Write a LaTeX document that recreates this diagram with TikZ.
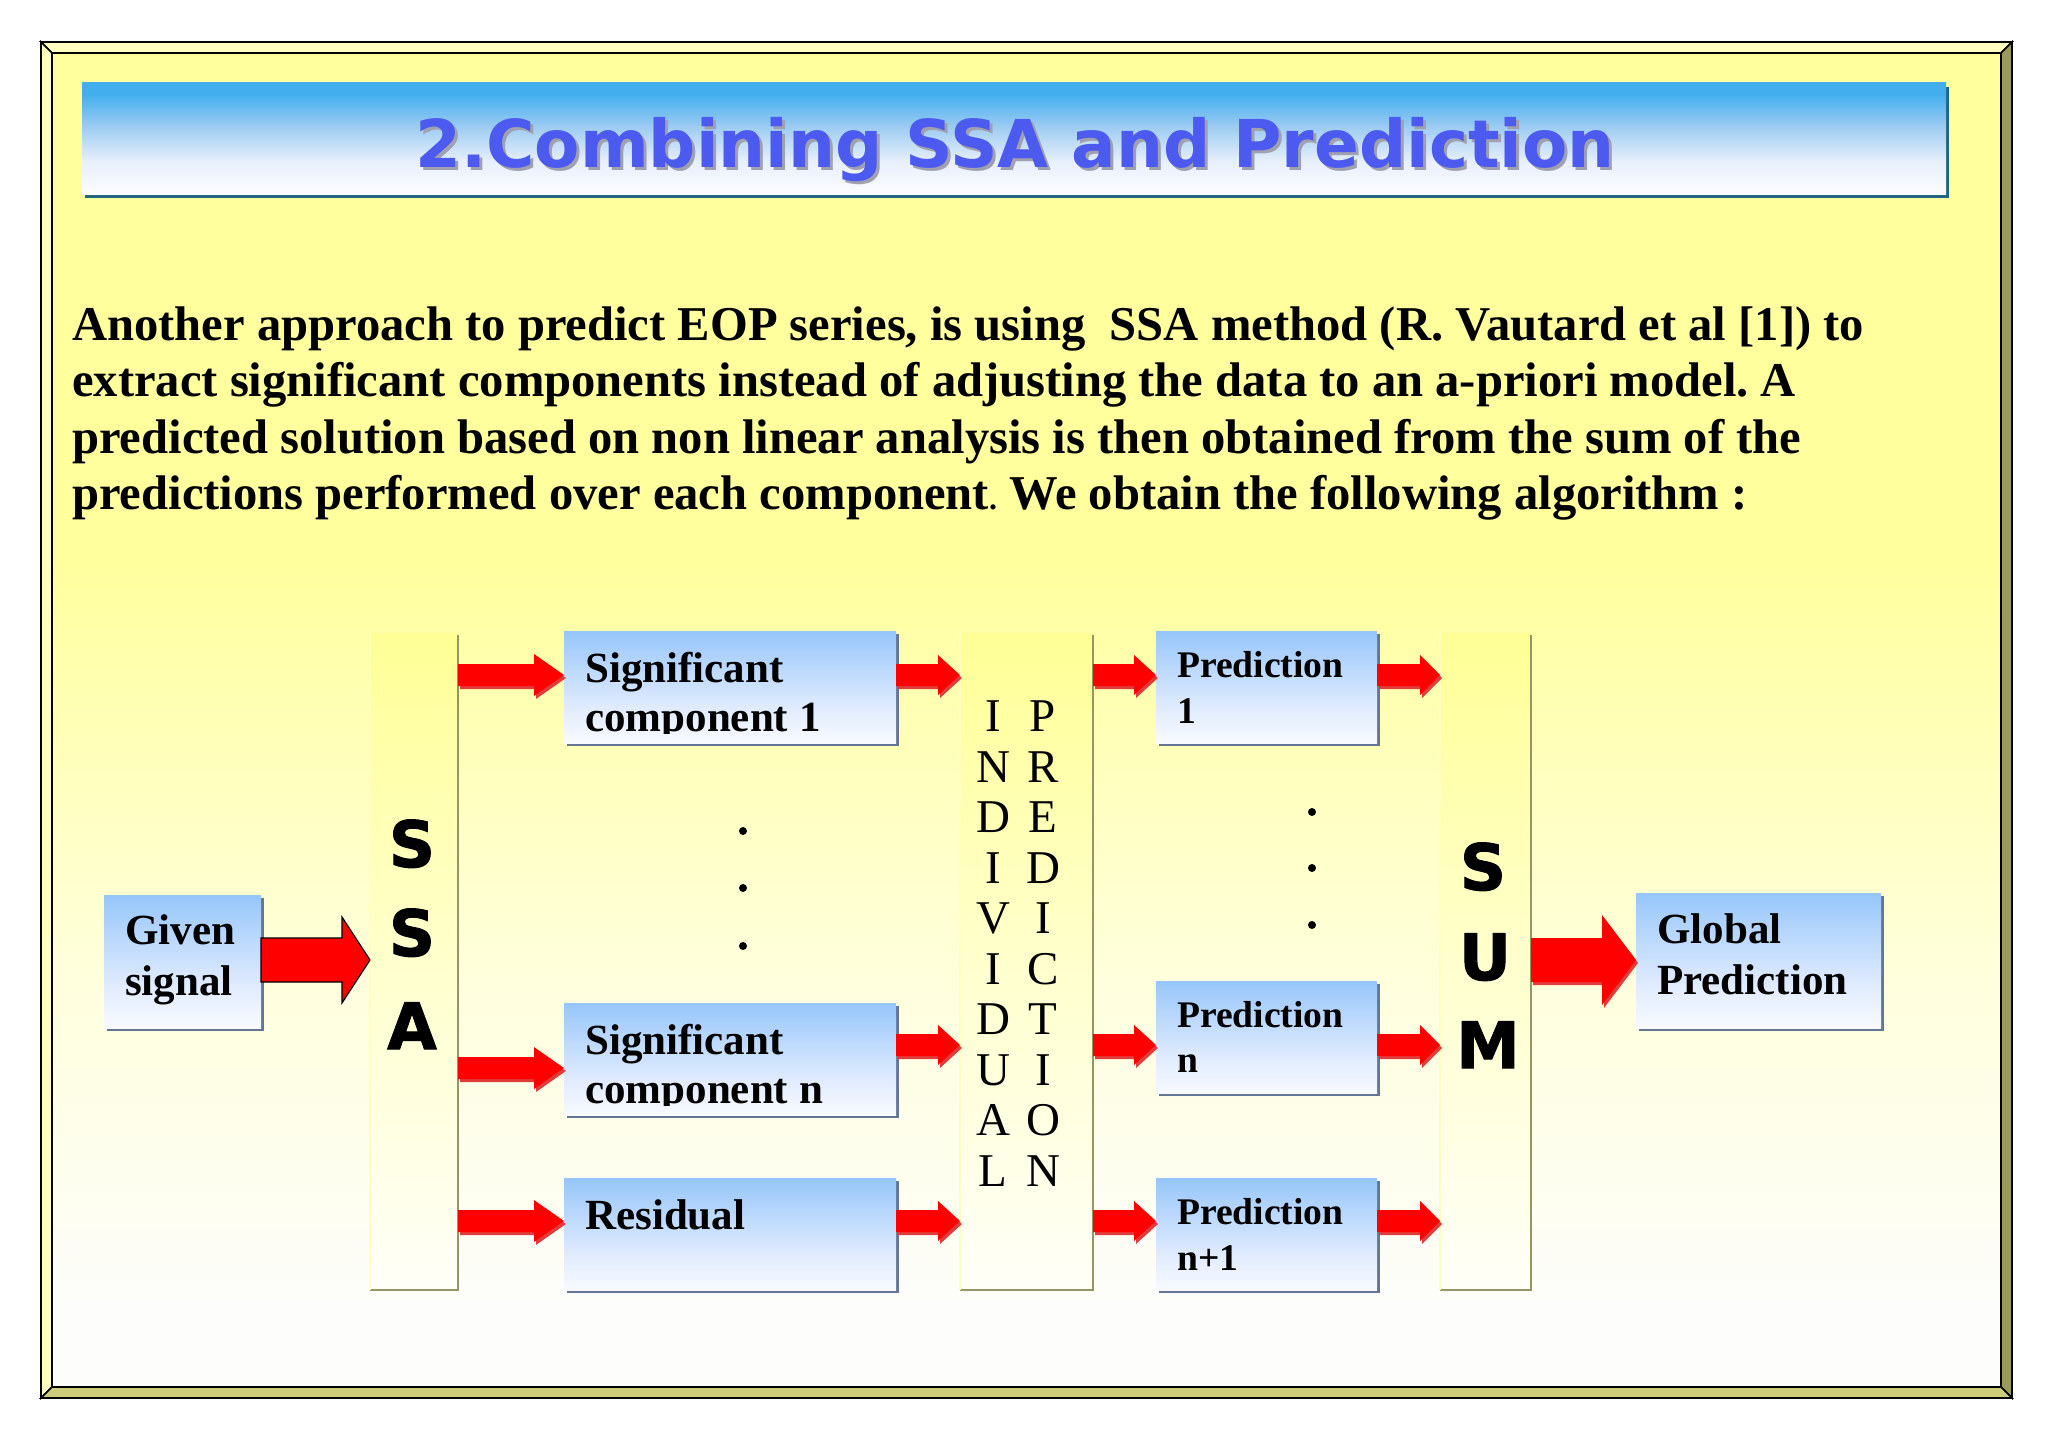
\documentclass[tikz,border=0pt]{standalone}
\usepackage{fontspec}
\setmainfont{Liberation Serif}
\newfontfamily\dejavu{DejaVu Sans}
\newfontfamily\heavyfont[BoldFeatures={FakeBold=1.6}]{DejaVu Sans}
\usetikzlibrary{calc,shadows}
\frenchspacing

\definecolor{bgyellow}{RGB}{255,255,158}
\definecolor{bgpale}{RGB}{255,255,222}
\definecolor{bgwhite}{RGB}{253,253,251}
\definecolor{bevellight}{RGB}{255,255,192}
\definecolor{beveldark}{RGB}{153,153,90}
\definecolor{bevelmid}{RGB}{204,204,122}
\definecolor{bantop}{RGB}{66,174,238}
\definecolor{banmid}{RGB}{160,205,242}
\definecolor{banlow}{RGB}{232,240,252}
\definecolor{banbot}{RGB}{252,252,255}
\definecolor{banshadow}{RGB}{35,100,130}
\definecolor{titleblue}{RGB}{76,90,240}
\definecolor{titleshadow}{RGB}{160,160,175}
\definecolor{boxtop}{RGB}{150,198,250}
\definecolor{boxmid}{RGB}{188,217,252}
\definecolor{boxlow}{RGB}{226,236,254}
\definecolor{boxbot}{RGB}{248,250,255}
\definecolor{boxshadow}{RGB}{100,118,148}
\definecolor{bartop}{RGB}{255,255,150}
\definecolor{barmid}{RGB}{255,255,205}
\definecolor{barbot}{RGB}{255,255,248}
\definecolor{barline}{RGB}{150,150,100}
\definecolor{arrowred}{RGB}{255,0,0}
\definecolor{arrowshadow}{RGB}{225,60,60}

\pgfdeclareverticalshading{bgsh}{100bp}{color(0bp)=(bgwhite); color(25bp)=(bgwhite); color(28bp)=(bgwhite); color(40bp)=(bgpale); color(56bp)=(bgyellow); color(75bp)=(bgyellow); color(100bp)=(bgyellow)}
\pgfdeclareverticalshading{bansh}{100bp}{color(0bp)=(banbot); color(25bp)=(banbot); color(40bp)=(banlow); color(55bp)=(banmid); color(70bp)=(bantop); color(75bp)=(bantop); color(100bp)=(bantop)}
\pgfdeclareverticalshading{boxsh}{100bp}{color(0bp)=(boxbot); color(25bp)=(boxbot); color(40bp)=(boxlow); color(58bp)=(boxmid); color(75bp)=(boxtop); color(100bp)=(boxtop)}
\pgfdeclareverticalshading{barsh}{100bp}{color(0bp)=(barbot); color(25bp)=(barbot); color(50bp)=(barmid); color(75bp)=(bartop); color(100bp)=(bartop)}

% block arrow: style, start, end, shaft half, head half, head length, dx, dy
\newcommand{\blockarrow}[8]{%
  \path[#1] let \p1=(#2), \p2=(#3) in
    (\x1#7,\y1+#4#8) -- (\x2-#6#7,\y1+#4#8) -- (\x2-#6#7,\y1+#5#8) --
    (\x2#7,\y1#8) -- (\x2-#6#7,\y1-#5#8) -- (\x2-#6#7,\y1-#4#8) --
    (\x1#7,\y1-#4#8) -- cycle;}
\newcommand{\redarrow}[5]{%
  \blockarrow{fill=arrowshadow}{#1}{#2}{#3}{#4}{#5}{+2pt}{-3pt}%
  \blockarrow{fill=arrowred}{#1}{#2}{#3}{#4}{#5}{+0pt}{+0pt}}

\tikzset{
  bluebox/.style={shade, shading=boxsh, inner sep=0pt, outer sep=0pt,
    drop shadow={shadow xshift=3pt, shadow yshift=-3pt, fill=boxshadow, opacity=1}},
  barbox/.style={shade, shading=barsh, inner sep=0pt, outer sep=0pt, minimum height=657pt},
  bigtext/.style={font=\bfseries\fontsize{43}{49}\selectfont, inner sep=0pt, anchor=base west},
  predtext/.style={font=\bfseries\fontsize{37.6}{44}\selectfont, inner sep=0pt, anchor=base west},
  paratext/.style={font=\bfseries\fontsize{48.6}{56.6}\selectfont, inner sep=0pt, anchor=base west},
  heavyletter/.style={font=\heavyfont\bfseries\fontsize{64}{70}\selectfont, inner sep=0pt, anchor=base},
  ipletter/.style={font=\fontsize{47}{50}\selectfont, inner sep=0pt, anchor=base},
  dotnode/.style={circle, fill=black, inner sep=0pt, minimum size=8pt},
  baredge/.style={draw=barline, line width=1.8pt},
  bevel/.style={draw=black, line width=1.6pt, line join=miter}
}

\begin{document}
\begin{tikzpicture}[x=1pt, y=-1pt]
\useasboundingbox (0,0) rectangle (2048,1447);
\fill[white] (0,0) rectangle (2048,1447);

% frame
\shade[shading=bgsh] (52,53) rectangle (2001,1387);
\filldraw[bevel, fill=bevellight] (41,42) -- (2012,42) -- (2001,53) -- (52,53) -- cycle;
\filldraw[bevel, fill=bevellight] (41,42) -- (52,53) -- (52,1387) -- (41,1398) -- cycle;
\filldraw[bevel, fill=beveldark] (2012,42) -- (2012,1398) -- (2001,1387) -- (2001,53) -- cycle;
\filldraw[bevel, fill=bevelmid] (41,1398) -- (2012,1398) -- (2001,1387) -- (52,1387) -- cycle;

% title banner
\fill[banshadow] (85,87) rectangle (1949,198);
\shade[shading=bansh] (82,83) rectangle (1946,195);
\node[font=\dejavu\bfseries\fontsize{66}{70}\selectfont, text=titleshadow, inner sep=0pt, anchor=base] (titleshade) at (1018,171) {2.Combining SSA and Prediction};
\node[font=\dejavu\bfseries\fontsize{66}{70}\selectfont, text=titleblue, inner sep=0pt, anchor=base] (title) at (1015,168) {2.Combining SSA and Prediction};

% paragraph
\node[paratext] (para1) at (72,340) {Another approach to predict EOP series, is using~\ SSA method (R. Vautard et al [1]) to};
\node[paratext] (para2) at (72,396.6) {extract significant components instead of adjusting the data to an a-priori model. A};
\node[paratext] (para3) at (72,453.2) {predicted solution based on non linear analysis is then obtained from the sum of the};
\node[paratext] (para4) at (72,509.8) {predictions performed over each component{\fontsize{32}{32}\selectfont.} We obtain the following algorithm :};

% bars
\node[barbox, minimum width=88pt] (ssa) at (414,961.5) {};
\node[barbox, minimum width=133pt] (ip) at (1026.5,961.5) {};
\node[barbox, minimum width=91pt] (sum) at (1485.5,961.5) {};
\foreach \b in {ssa,ip,sum}{
  \draw[baredge] ([yshift=-2pt]\b.north east) -- (\b.south east) -- (\b.south west);
  \draw[draw=bevellight, line width=1.5pt] (\b.south west) -- (\b.north west);
}

% boxes
\node[bluebox, minimum width=157pt, minimum height=133pt] (given) at (182.5,961.5) {};
\node[bluebox, minimum width=332pt, minimum height=112pt] (c1) at (730,687) {};
\node[bluebox, minimum width=332pt, minimum height=112pt] (cn) at (730,1059) {};
\node[bluebox, minimum width=332pt, minimum height=112pt] (res) at (730,1234) {};
\node[bluebox, minimum width=221pt, minimum height=112pt] (p1) at (1266.5,687) {};
\node[bluebox, minimum width=221pt, minimum height=112pt] (pn) at (1266.5,1037) {};
\node[bluebox, minimum width=221pt, minimum height=112pt] (pn1) at (1266.5,1234) {};
\node[bluebox, minimum width=245pt, minimum height=135pt] (glob) at (1758.5,960.5) {};

% rows for connectors
\coordinate (rowA) at (0,675);
\coordinate (rowS) at (0,1068);
\coordinate (rowN) at (0,1045);
\coordinate (rowR) at (0,1221);
\coordinate (rowM) at (0,960);

% connectors
\blockarrow{fill=arrowred, draw=black, line width=1.2pt, line join=miter}{given.east |- rowM}{ssa.west |- rowM}{22pt}{43pt}{28pt}{+0pt}{+0pt}
\redarrow{ssa.east |- rowA}{c1.west |- rowA}{11pt}{21pt}{30pt}
\redarrow{ssa.east |- rowS}{cn.west |- rowS}{11pt}{21pt}{30pt}
\redarrow{ssa.east |- rowR}{res.west |- rowR}{11pt}{21pt}{30pt}
\redarrow{c1.east |- rowA}{ip.west |- rowA}{11pt}{20pt}{22pt}
\redarrow{cn.east |- rowN}{ip.west |- rowN}{11pt}{20pt}{22pt}
\redarrow{res.east |- rowR}{ip.west |- rowR}{11pt}{20pt}{22pt}
\redarrow{ip.east |- rowA}{p1.west |- rowA}{11pt}{20pt}{22pt}
\redarrow{ip.east |- rowN}{pn.west |- rowN}{11pt}{20pt}{22pt}
\redarrow{ip.east |- rowR}{pn1.west |- rowR}{11pt}{20pt}{22pt}
\redarrow{p1.east |- rowA}{sum.west |- rowA}{11pt}{20pt}{20pt}
\redarrow{pn.east |- rowN}{sum.west |- rowN}{11pt}{20pt}{20pt}
\redarrow{pn1.east |- rowR}{sum.west |- rowR}{11pt}{20pt}{20pt}
\redarrow{sum.east |- rowM}{glob.west |- rowM}{22pt}{45pt}{34pt}

% texts in boxes
\node[bigtext] (givena) at (125,944) {Given};
\node[bigtext] (givenb) at (125,995) {signal};
\begin{scope}
  \clip (564,631) rectangle (896,733);
  \node[bigtext] (c1a) at (585,682) {Significant};
  \node[bigtext] (c1b) at (585,731) {component 1};
\end{scope}
\begin{scope}
  \clip (564,1003) rectangle (896,1105);
  \node[bigtext] (cna) at (585,1054) {Significant};
  \node[bigtext] (cnb) at (585,1103) {component n};
\end{scope}
\node[bigtext] (resa) at (585,1229) {Residual};
\node[predtext] (p1a) at (1177,677) {Prediction};
\node[predtext] (p1b) at (1177,723) {1};
\node[predtext] (pna) at (1177,1027) {Prediction};
\node[predtext] (pnb) at (1177,1072) {n};
\node[predtext] (pn1a) at (1177,1224) {Prediction};
\node[predtext] (pn1b) at (1177,1270) {n+1};
\node[bigtext] (globa) at (1657,943) {Global};
\node[bigtext] (globb) at (1657,994) {Prediction};

% SSA and SUM letters
\node[heavyletter] (ssaS1) at (412,867) {S};
\node[heavyletter] (ssaS2) at (412,956) {S};
\node[heavyletter] (ssaA) at (412,1049) {A};
\node[heavyletter] (sumS) at (1483,890) {S};
\node[heavyletter] (sumU) at (1485,980) {U};
\node[heavyletter] (sumM) at (1488,1068) {M};

% INDIVIDUAL PREDICTION letters
\foreach \l [count=\i from 0] in {I,N,D,I,V,I,D,U,A,L}{
  \node[ipletter] (ipl\i) at (993,731.5+50.5*\i) {\l};
}
\foreach \l [count=\i from 0] in {P,R,E,D,I,C,T,I,O,N}{
  \node[ipletter] (ipr\i) at (1043,731.5+50.5*\i) {\l};
}

% dots
\node[dotnode] (dc1) at (743,831) {};
\node[dotnode] (dc2) at (743,888) {};
\node[dotnode] (dc3) at (743,946) {};
\node[dotnode] (dp1) at (1312,812) {};
\node[dotnode] (dp2) at (1312,868) {};
\node[dotnode] (dp3) at (1312,925) {};
\end{tikzpicture}
\end{document}
